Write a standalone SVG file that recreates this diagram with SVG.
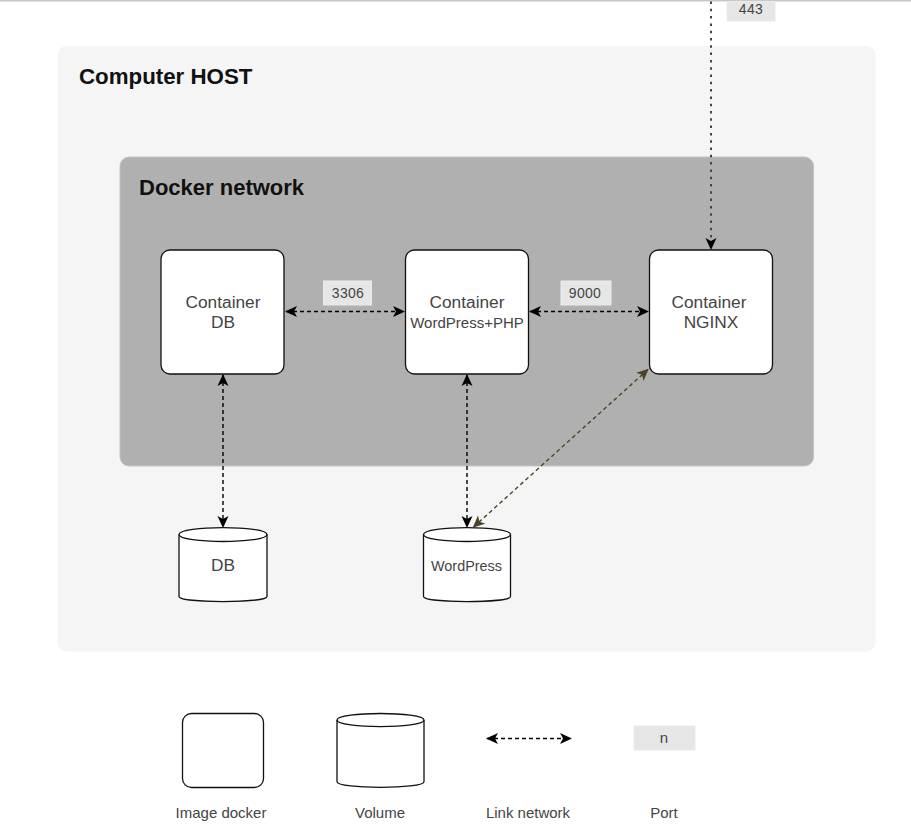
<svg xmlns="http://www.w3.org/2000/svg" width="911" height="839" viewBox="0 0 911 839">
<style>
text{font-family:"Liberation Sans",Arial,sans-serif;text-anchor:middle;fill:#444}
.t{font-size:17.300px}.s{font-size:15px}.w{font-size:14.400px}.p{font-size:14px;letter-spacing:.3px}
.h{font-size:22.300px;font-weight:bold;fill:#111;text-anchor:start}
.box{fill:#fff;stroke:#111;stroke-width:1.300}
.rim{fill:none;stroke:#111;stroke-width:1.300}
.port{fill:#e6e6e6;stroke:#ebebeb;stroke-width:1}
.l{fill:none;stroke:#000;stroke-width:1.400;stroke-dasharray:4 3}
.d{stroke:#444;stroke-width:2;stroke-dasharray:2.500 4.800}
.b{stroke:#4d4423}
</style>
<defs>
<marker id="a" viewBox="0 0 12 12" refX="11" refY="6" markerWidth="12" markerHeight="12" markerUnits="userSpaceOnUse" orient="auto-start-reverse"><path d="M0 0.500L12 6L0 11.500L3 6Z" fill="#000"/></marker>
<marker id="c" viewBox="0 0 12 12" refX="11" refY="6" markerWidth="12" markerHeight="12" markerUnits="userSpaceOnUse" orient="auto-start-reverse"><path d="M0 0.500L12 6L0 11.500L3 6Z" fill="#4d4423"/></marker>
</defs>
<rect id="topline" x="0" y="0" width="911" height="1.500" fill="#c8c8c8"/>
<g id="host"><rect x="57.500" y="46" width="818" height="605.500" rx="9" fill="#f5f5f5"/><text class="h" x="79" y="83.500">Computer HOST</text></g>
<g id="network"><rect x="120" y="157" width="693.500" height="309" rx="9" fill="#b0b0b0" stroke="#c4c4c4"/><text class="h" x="139" y="194.500" style="font-size:22px">Docker network</text></g>
<g id="connectors">
<path class="l" d="M286 311.500H404" marker-start="url(#a)" marker-end="url(#a)"/>
<path class="l" d="M530 311.500H648" marker-start="url(#a)" marker-end="url(#a)"/>
<path class="l" d="M223 375V527" marker-start="url(#a)" marker-end="url(#a)"/>
<path class="l" d="M467 375V527" marker-start="url(#a)" marker-end="url(#a)"/>
<path class="l b" d="M473.500 527L648 369.500" marker-start="url(#c)" marker-end="url(#c)"/>
<path class="l d" d="M711 1.500V249" marker-end="url(#a)"/>
<path class="l" d="M487 738.500H571" marker-start="url(#a)" marker-end="url(#a)"/>
</g>
<g id="container-db"><rect class="box" x="161" y="250" width="123" height="124" rx="9"/><text class="t" x="223" y="308">Container</text><text class="t" x="223" y="328">DB</text></g>
<g id="container-wp"><rect class="box" x="405.500" y="250" width="123" height="124" rx="9"/><text class="t" x="467" y="308">Container</text><text class="s" x="467" y="328">WordPress+PHP</text></g>
<g id="container-nginx"><rect class="box" x="649.500" y="250" width="123" height="124" rx="9"/><text class="t" x="709" y="308">Container</text><text class="t" x="711" y="328">NGINX</text></g>
<g id="port-3306"><rect class="port" x="323.500" y="281" width="48" height="24"/><text class="p" x="348" y="298">3306</text></g>
<g id="port-9000"><rect class="port" x="561" y="281" width="50" height="24"/><text class="p" x="585" y="298">9000</text></g>
<g id="port-443"><rect class="port" x="727" y="1.500" width="48" height="19.500"/><text class="p" x="751" y="14">443</text></g>
<g id="volume-db"><path class="box" d="M179 534.500C179 525.200 267 525.200 267 534.500V596.500C267 603.200 179 603.200 179 596.500Z"/><path class="rim" d="M179 534.500C179 543.800 267 543.800 267 534.500"/><text class="t" x="223" y="571">DB</text></g>
<g id="volume-wp"><path class="box" d="M423.500 534.500C423.500 525.200 510.500 525.200 510.500 534.500V596.500C510.500 603.200 423.500 603.200 423.500 596.500Z"/><path class="rim" d="M423.500 534.500C423.500 543.800 510.500 543.800 510.500 534.500"/><text class="w" x="466.500" y="571">WordPress</text></g>
<g id="legend-image"><rect class="box" x="182.500" y="713.500" width="81" height="74" rx="9"/><text class="s" x="221" y="818">Image docker</text></g>
<g id="legend-volume"><path class="box" d="M337 720C337 711.300 424 711.300 424 720V781.700C424 789.200 337 789.200 337 781.700Z"/><path class="rim" d="M337 720C337 728.700 424 728.700 424 720"/><text class="s" x="380" y="818">Volume</text></g>
<g id="legend-link"><text class="s" x="528" y="818">Link network</text></g>
<g id="legend-port"><rect class="port" x="634" y="726" width="61" height="24"/><text class="s" x="664" y="743">n</text><text class="s" x="664" y="818">Port</text></g>
</svg>
